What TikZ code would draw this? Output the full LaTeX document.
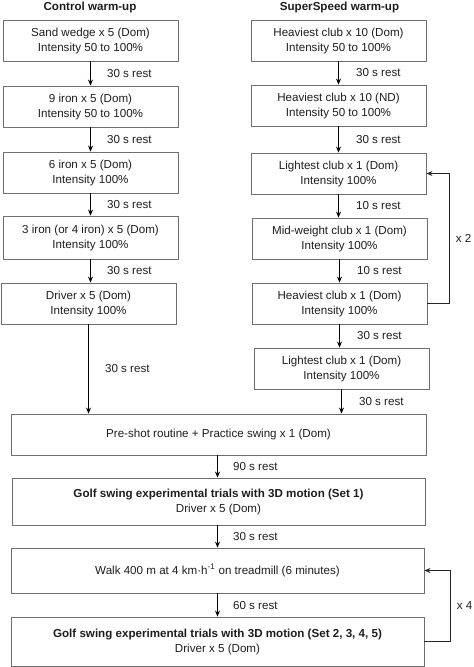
\documentclass[tikz,border=0pt]{standalone}
\usepackage{fontspec}
\setmainfont{Liberation Sans}
\usetikzlibrary{arrows.meta}
\definecolor{boxline}{HTML}{6E6E6E}
\definecolor{txt}{HTML}{1E1E1E}
\tikzset{
  stepbox/.style={draw=boxline, line width=0.9pt, fill=white, rectangle, align=center,
    inner sep=0pt, text=txt, font=\fontsize{11.6}{15}\selectfont},
  arr/.style={draw=black, line width=1.1pt, -{Stealth[length=6pt,width=5pt]}},
  loopline/.style={draw=black!85, line width=0.8pt, -{Stealth[length=6pt,width=5pt]}},
  lab/.style={text=txt, font=\fontsize{11.6}{15}\selectfont, inner sep=0pt},
  head/.style={text=txt, font=\fontsize{11.6}{15}\selectfont\bfseries, inner sep=0pt},
}
\begin{document}
\begin{tikzpicture}[x=1pt,y=-1pt]
\useasboundingbox[fill=white] (0,0) rectangle (474,667);
% headers
\node[head] (hc) at (90,7) {Control warm-up};
\node[head] (hs) at (339.5,7) {SuperSpeed warm-up};
% left column
\node[stepbox, minimum width=175pt, minimum height=41pt] (L1) at (90.5,40.5) {Sand wedge x 5 (Dom)\\Intensity 50 to 100\%};
\node[stepbox, minimum width=175pt, minimum height=41pt] (L2) at (90.5,106.5) {9 iron x 5 (Dom)\\Intensity 50 to 100\%};
\node[stepbox, minimum width=175pt, minimum height=41pt] (L3) at (90.5,172.5) {6 iron x 5 (Dom)\\Intensity 100\%};
\node[stepbox, minimum width=175pt, minimum height=43pt] (L4) at (90.5,237.5) {3 iron (or 4 iron) x 5 (Dom)\\Intensity 100\%};
\node[stepbox, minimum width=175pt, minimum height=41pt] (L5) at (88.5,303.5) {Driver x 5 (Dom)\\Intensity 100\%};
% right column
\node[stepbox, minimum width=175pt, minimum height=41pt] (R1) at (338.5,40.5) {Heaviest club x 10 (Dom)\\Intensity 50 to 100\%};
\node[stepbox, minimum width=175pt, minimum height=41pt] (R2) at (338.5,105.5) {Heaviest club x 10 (ND)\\Intensity 50 to 100\%};
\node[stepbox, minimum width=175pt, minimum height=41pt] (R3) at (338.5,173.5) {Lightest club x 1 (Dom)\\Intensity 100\%};
\node[stepbox, minimum width=175pt, minimum height=41pt] (R4) at (339.5,238.5) {Mid-weight club x 1 (Dom)\\Intensity 100\%};
\node[stepbox, minimum width=175pt, minimum height=41pt] (R5) at (339.5,303.5) {Heaviest club x 1 (Dom)\\Intensity 100\%};
\node[stepbox, minimum width=175pt, minimum height=41pt] (R6) at (341.5,368.5) {Lightest club x 1 (Dom)\\Intensity 100\%};
% bottom
\node[stepbox, minimum width=415pt, minimum height=41pt] (P) at (218.5,434.5) {Pre-shot routine + Practice swing x 1 (Dom)};
\node[stepbox, minimum width=413pt, minimum height=47pt] (S1) at (218.5,501.5) {\textbf{Golf swing experimental trials with 3D motion (Set 1)}\\Driver x 5 (Dom)};
\node[stepbox, minimum width=413pt, minimum height=45pt] (W) at (217.5,570.5) {Walk 400 m at 4 km·h\textsuperscript{-1} on treadmill (6 minutes)};
\node[stepbox, minimum width=413pt, minimum height=49pt] (S2) at (217.5,641.5) {\textbf{Golf swing experimental trials with 3D motion (Set 2, 3, 4, 5)}\\Driver x 5 (Dom)};
% left arrows
\draw[arr] (L1.south) -- node[lab, midway, anchor=west, xshift=16pt] (t1) {30 s rest} (L2.north);
\draw[arr] (L2.south) -- node[lab, midway, anchor=west, xshift=16pt] (t2) {30 s rest} (L3.north);
\draw[arr] (L3.south) -- node[lab, midway, anchor=west, xshift=16pt] (t3) {30 s rest} (L4.north);
\draw[arr] (L4.south) -- node[lab, midway, anchor=west, xshift=16pt] (t4) {30 s rest} (L4.south |- L5.north);
\draw[arr] (L5.south) -- node[lab, midway, anchor=west, xshift=16pt] (t5) {30 s rest} (L5.south |- P.north);
% right arrows
\draw[arr] (R1.south) -- node[lab, midway, anchor=west, xshift=17pt] (u1) {30 s rest} (R2.north);
\draw[arr] (R2.south) -- node[lab, midway, anchor=west, xshift=17pt] (u2) {30 s rest} (R3.north);
\draw[arr] (R3.south) -- node[lab, midway, anchor=west, xshift=17pt] (u3) {10 s rest} (R3.south |- R4.north);
\draw[arr] (R4.south) -- node[lab, midway, anchor=west, xshift=17pt] (u4) {10 s rest} (R5.north);
\draw[arr] (R5.south) -- node[lab, midway, anchor=west, xshift=17pt] (u5) {30 s rest} (R5.south |- R6.north);
\draw[arr] (R6.south) -- node[lab, midway, anchor=west, xshift=17pt] (u6) {30 s rest} (R6.south |- P.north);
% repeat loop x 2
\draw[loopline] (R5.east) -- ++(22,0) |- node[lab, pos=0.25, anchor=west, xshift=6pt] (rep2) {x 2} (R3.east);
% bottom arrows
\draw[arr] (P.south -| W.north) -- node[lab, midway, anchor=west, xshift=15pt] (v1) {90 s rest} (W.north |- S1.north);
\draw[arr] (S1.south -| W.north) -- node[lab, midway, anchor=west, xshift=15pt] (v2) {30 s rest} (W.north);
\draw[arr] (W.south) -- node[lab, midway, anchor=west, xshift=15pt] (v3) {60 s rest} (S2.north);
% repeat loop x 4
\draw[loopline] (S2.east) -- ++(26,0) |- node[lab, pos=0.25, anchor=west, xshift=6pt] (rep4) {x 4} (W.east);
\end{tikzpicture}
\end{document}
